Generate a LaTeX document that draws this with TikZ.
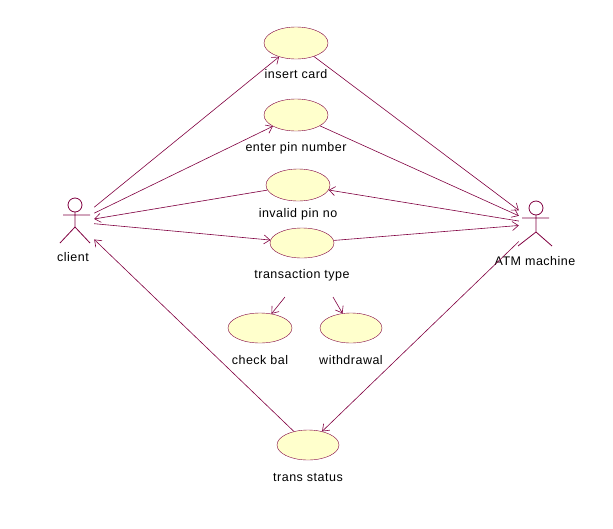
\documentclass[tikz,border=0pt]{standalone}
\usepackage{fontspec}
\setmainfont{Liberation Sans}[LetterSpace=4]
\usetikzlibrary{shapes.geometric,arrows.meta}
\definecolor{ln}{HTML}{800040}
\definecolor{uf}{HTML}{FFFFCC}
\definecolor{ub}{HTML}{800040}
\begin{document}
\begin{tikzpicture}[x=1pt,y=-1pt,
  uc/.style={ellipse,draw=ub,fill=uf,minimum width=64pt,minimum height=32pt,inner sep=0pt},
  lbl/.style={font=\fontsize{12.5}{14}\selectfont,inner sep=0pt},
  act/.style={draw=none,minimum width=36pt,minimum height=44pt,inner sep=0pt},
  fig/.style={draw=ln,line width=0.8pt},
  ar/.style={draw=ln,line width=0.6pt,-{Straight Barb[length=6pt,width=9pt]}}]
\useasboundingbox (0,0) rectangle (613,528);
\node[uc] (ic) at (296,43) {};
\node[lbl] at (296,74) {insert card};
\node[uc] (ep) at (296,115) {};
\node[lbl] at (296,148) {enter pin number};
\node[uc] (ip) at (298,185) {};
\node[lbl] at (298,214) {invalid pin no};
\node[uc,minimum height=30pt] (tt) at (302,243) {};
\node[lbl] at (302,275) {transaction type};
\node[uc,minimum height=30pt] (cb) at (260,328) {};
\node[lbl] at (260,360) {check bal};
\node[uc,minimum height=30pt,minimum width=62pt] (wd) at (351,328) {};
\node[lbl] at (351,360) {withdrawal};
\node[uc,minimum height=30pt,minimum width=62pt] (ts) at (308,445) {};
\node[lbl] at (308,478) {trans status};
\coordinate (t1) at (285,297);
\coordinate (t2) at (333,297);
% actors
\node[act] (cl) at (76,222) {};
\draw[fig] (75,205) circle (7);
\draw[fig] (63,215) -- (90,215) (75,212) -- (75,227) (60,243) -- (75,227) -- (90,243);
\node[lbl] at (73,257) {client};
\node[act] (atm) at (537,224) {};
\draw[fig] (536,208) circle (7);
\draw[fig] (522,218) -- (549,218) (536,215) -- (536,232) (518,246) -- (536,232) -- (552,246);
\node[lbl] at (535,261) {ATM machine};
% connectors
\draw[ar] (cl) -- (ic);
\draw[ar] (cl) -- (ep);
\draw[ar] (ip) -- (cl);
\draw[ar] (cl) -- (tt);
\draw[ar] (ic) -- (atm);
\draw[ar] (ep) -- (atm);
\draw[ar] (atm) -- (ip);
\draw[ar] (tt) -- (atm);
\draw[ar] (t1) -- (cb);
\draw[ar] (t2) -- (wd);
\draw[ar] (atm) -- (ts);
\draw[ar] (ts) -- (cl);
\end{tikzpicture}
\end{document}
